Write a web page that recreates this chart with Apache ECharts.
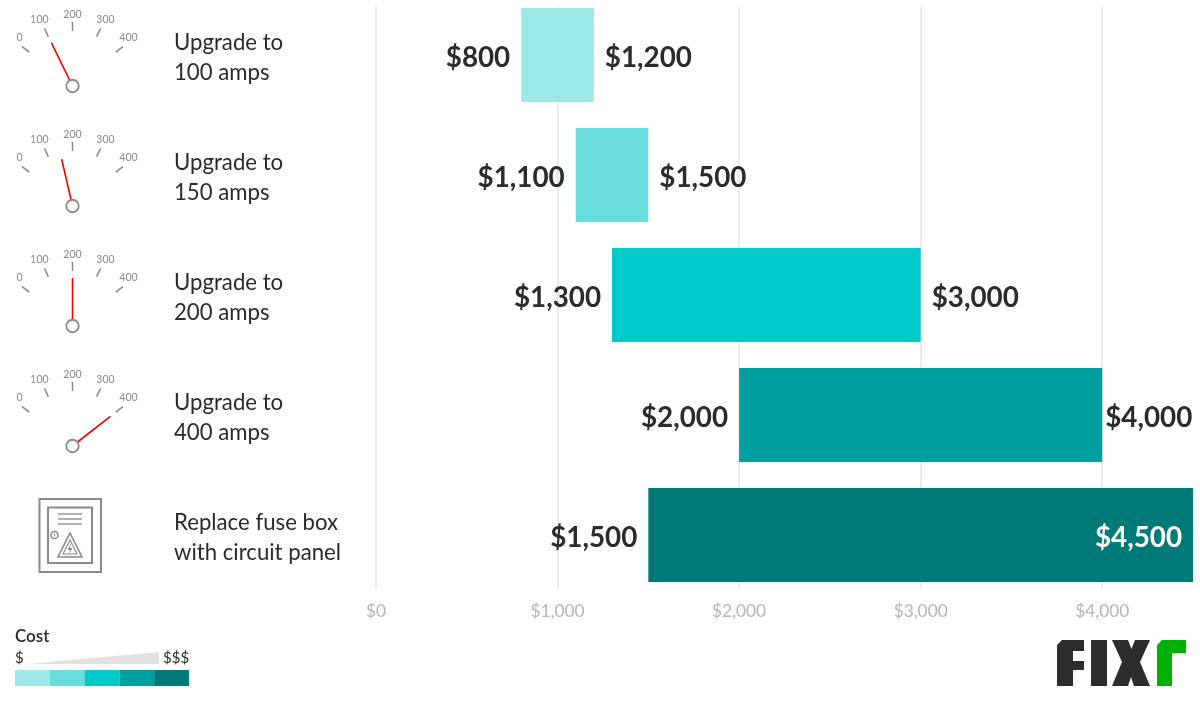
<!DOCTYPE html>
<html><head><meta charset="utf-8">
<style>html,body{margin:0;padding:0;background:#fff}#c{width:1200px;height:701px}</style>
<script src="https://cdn.jsdelivr.net/npm/echarts@6/dist/echarts.min.js"></script>
</head><body><div id="c"></div>
<script>
const categories = ['Upgrade to\n100 amps','Upgrade to\n150 amps','Upgrade to\n200 amps','Upgrade to\n400 amps','Replace fuse box\nwith circuit panel'];
const lowCosts = [800,1100,1300,2000,1500];
const highCosts = [1200,1500,3000,4000,4500];
const barColors = ['#9BEAE8','#67DEDC','#00C9C9','#00A0A0','#007A78'];
const gaugeAmps = [100,150,200,400];
const gaugeTickLabels = ['0','100','200','300','400'];
const gaugeCentersY = [86,206,326,446];
const gaugeCenterX = 72.5;
const gaugeLabelOffsets = [[-53,-48],[-33,-66],[0,-71],[33,-66],[56,-48]];
const xTicksMax = 4500;
const FONT = 'Lato';
const INK = '#2b2b2b';
const money = v => '$' + v.toLocaleString('en-US');

const gaugeSeries = gaugeAmps.map((amp,i)=>({
  type:'gauge', center:[gaugeCenterX,gaugeCentersY[i]], radius:64, silent:true, z:5,
  startAngle:142, endAngle:38, min:0, max:400, splitNumber:4,
  axisLine:{show:false,lineStyle:{width:0}},
  axisTick:{show:false},
  splitLine:{show:true,length:9,distance:0,lineStyle:{color:'#888',width:1.5}},
  axisLabel:{show:false},
  pointer:{show:true,icon:'rect',length:48,width:1.6,itemStyle:{color:'#f00000'}},
  anchor:{show:true,showAbove:true,size:12.5,icon:'circle',itemStyle:{color:'#fff',borderColor:'#888',borderWidth:1.8}},
  title:{show:false},detail:{show:false},
  data:[{value:amp}]
}));
const gaugeLabels = gaugeCentersY.flatMap(cy=>gaugeTickLabels.map((t,j)=>({
  type:'text',z:6,style:{x:gaugeCenterX+gaugeLabelOffsets[j][0],y:cy+gaugeLabelOffsets[j][1],text:t,
    align:'center',verticalAlign:'middle',font:'10.5px '+FONT,fill:'#888'}
})));

const G = '#8a8a8a';
const stroke = w => ({stroke:G,fill:'none',lineWidth:w});
const boxIcon = [
  {type:'rect',shape:{x:39.5,y:499,width:61.5,height:73},style:stroke(2)},
  {type:'rect',shape:{x:48,y:507.5,width:44,height:55.5},style:stroke(2)},
  {type:'line',shape:{x1:58,y1:514,x2:82,y2:514},style:stroke(1.3)},
  {type:'line',shape:{x1:58,y1:519,x2:82,y2:519},style:stroke(1.3)},
  {type:'line',shape:{x1:58,y1:524,x2:82,y2:524},style:stroke(1.3)},
  {type:'circle',shape:{cx:54.5,cy:535,r:3.6},style:stroke(1.5)},
  {type:'line',shape:{x1:54.5,y1:533.5,x2:54.5,y2:536.5},style:stroke(1)},
  {type:'polygon',shape:{points:[[70,533],[82,557],[58,557]]},style:stroke(1.6)},
  {type:'polygon',shape:{points:[[70,540],[77,554],[63,554]]},style:stroke(1.1)},
  {type:'polygon',shape:{points:[[71.5,543],[67.5,550],[70,550],[69,554.5],[72.5,548],[70,548]]},style:{fill:G}}
];
const legendRects = barColors.map((c,i)=>({type:'rect',shape:{x:15+i*34.8,y:670,width:34.8,height:16},style:{fill:c}}));
const legend = [
  {type:'text',style:{x:15,y:628,text:'Cost',font:'600 17px '+FONT,fill:INK}},
  {type:'text',style:{x:15,y:651,text:'$',font:'15px '+FONT,fill:INK}},
  {type:'text',style:{x:163,y:651,text:'$$$',font:'15px '+FONT,fill:INK}},
  {type:'polygon',shape:{points:[[27,664],[159,652],[159,664]]},style:{fill:'#e0e0e0'}},
  ...legendRects
];
const logo = [
  {type:'polygon',shape:{points:[[1057,645],[1062,640],[1084,640],[1084,651],[1073,651],[1073,661],[1084,661],[1084,670],[1073,670],[1073,686],[1057,686]]},style:{fill:'#2d2d2d'}},
  {type:'rect',shape:{x:1091,y:640,width:16,height:46},style:{fill:'#2d2d2d'}},
  {type:'polygon',shape:{points:[[1112,640],[1128,640],[1131.5,649],[1135,640],[1150,640],[1140,662],[1150,686],[1134,686],[1131,677],[1128,686],[1112,686],[1122,662]]},style:{fill:'#2d2d2d'}},
  {type:'polygon',shape:{points:[[1157,645],[1162,640],[1186,640],[1186,653],[1172,653],[1172,686],[1157,686]]},style:{fill:'#00b200'}}
];

const valueLabel = {fontFamily:FONT,fontSize:27.8,fontWeight:700,color:INK,offset:[0,3]};
const option = {
  animation:false,
  backgroundColor:'#fff',
  grid:[
    {left:376,width:817,top:55,height:480},
    {left:376,width:817,top:7,height:582}
  ],
  xAxis:[
    {gridIndex:0,type:'value',min:0,max:xTicksMax,show:false},
    {gridIndex:1,type:'value',min:0,max:xTicksMax,interval:1000,
     axisLine:{show:false},axisTick:{show:false},
     splitLine:{show:true,showMaxLine:false,lineStyle:{color:'#e4e4e4',width:1.5}},
     axisLabel:{margin:14,color:'#b5b5b5',fontSize:17.3,fontFamily:FONT,
       showMaxLabel:false,formatter:v=>money(v)}}
  ],
  yAxis:[
    {gridIndex:0,type:'category',inverse:true,boundaryGap:false,data:categories,
     axisLine:{show:false},axisTick:{show:false},splitLine:{show:false},
     axisLabel:{margin:202,align:'left',
       formatter:v=>'{s| }\n'+v.split('\n').map(l=>'{a|'+l+'}').join('\n'),
       rich:{
         s:{fontSize:1,lineHeight:6},
         a:{color:INK,fontSize:22.2,lineHeight:30,fontFamily:FONT}
       }}},
    {gridIndex:1,type:'value',min:0,max:1,show:false}
  ],
  series:[
    {type:'bar',xAxisIndex:0,yAxisIndex:0,stack:'range',barWidth:94,z:3,clip:false,
     itemStyle:{color:'rgba(0,0,0,0)'},
     label:{show:true,position:'insideRight',distance:11,...valueLabel,formatter:p=>money(p.value)},
     data:lowCosts},
    {type:'bar',xAxisIndex:0,yAxisIndex:0,stack:'range',barWidth:94,z:3,clip:false,
     label:{show:true,position:'right',distance:11,...valueLabel,formatter:p=>money(highCosts[p.dataIndex])},
     data:highCosts.map((h,i)=>{
       const item={value:h-lowCosts[i],itemStyle:{color:barColors[i]}};
       if(h===4000) item.label={distance:3};
       if(h===xTicksMax) item.label={position:'insideRight',distance:11,color:'#fff'};
       return item;
     })},
    ...gaugeSeries
  ],
  graphic:{elements:[...gaugeLabels,...boxIcon,...legend,...logo].map(e=>({...e,silent:true}))}
};
echarts.init(document.getElementById('c'),null,{renderer:'canvas'}).setOption(option);
</script></body></html>
